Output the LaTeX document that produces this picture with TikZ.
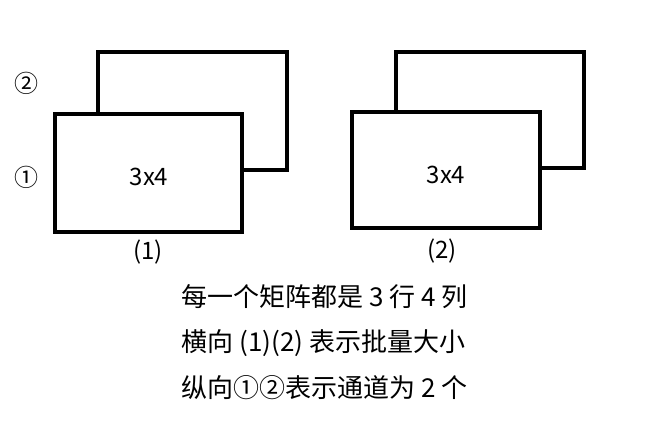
\documentclass[tikz,border=0pt]{standalone}
\usepackage{fontspec}
\setmainfont{Noto Sans CJK SC}
\usetikzlibrary{positioning}
\begin{document}
\begin{tikzpicture}[x=1pt,y=-1pt,
  mat/.style={draw=black, line width=3.5pt, fill=white},
  lbl/.style={font=\fontsize{24}{28}\selectfont},
  note/.style={font=\fontsize{26}{30}\selectfont, anchor=west}
  ]
\useasboundingbox (0,0) rectangle (664,432);
% first batch element
\draw[mat] (98,52) rectangle (287,170);
\draw[mat] (55,114) rectangle (242,232);
\node[lbl] (m1) at (149,177) {3x4};
\node[lbl] (b1) at (148,252) {(1)};
% second batch element
\draw[mat] (396,52) rectangle (584,168);
\draw[mat] (352,112) rectangle (540,228);
\node[lbl] (m2) at (446,175) {3x4};
\node[lbl] (b2) at (442,251) {(2)};
% channels
\node[lbl] (c2) at (26,83) {②};
\node[lbl] (c1) at (26,177) {①};
% notes
\node[note] (t1) at (178,297) {每一个矩阵都是 3 行 4 列};
\node[note] (t2) at (178,343) {横向 (1)(2) 表示批量大小};
\node[note] (t3) at (178,388) {纵向①②表示通道为 2 个};
\end{tikzpicture}
\end{document}
